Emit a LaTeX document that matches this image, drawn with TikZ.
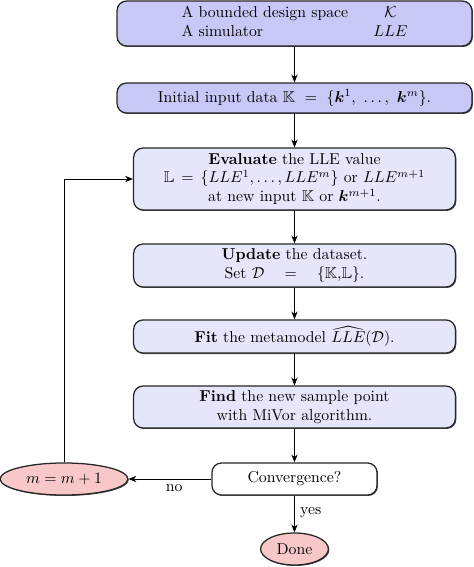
\documentclass[tikz,border=0pt]{standalone}
\usepackage{amssymb,bm}
\usetikzlibrary{shapes.geometric,shadows,arrows.meta}
\definecolor{topfill}{RGB}{200,200,246}
\definecolor{boxfill}{RGB}{230,230,250}
\definecolor{pinkfill}{RGB}{248,200,200}
\tikzset{
  base/.style={draw=black!85, line width=0.8pt, drop shadow={shadow xshift=0.6pt, shadow yshift=-0.6pt, fill=black!70, opacity=1}},
  topbox/.style={base, rounded corners=6pt, fill=topfill, minimum width=225pt, align=center, inner sep=2pt},
  stepbox/.style={base, rounded corners=6pt, fill=boxfill, minimum width=204pt, align=center, inner sep=2pt},
  decbox/.style={base, rounded corners=6pt, fill=white, minimum width=104.6pt, minimum height=20.3pt, align=center},
  term/.style={base, ellipse, fill=pinkfill, inner sep=0pt, minimum height=20.3pt},
  arr/.style={-{Stealth[length=5pt,width=4pt]}, line width=0.6pt}
}
\begin{document}
\begin{tikzpicture}[x=0.634pt, y=-0.634pt]
\useasboundingbox (0,0) rectangle (474,567);
\node[topbox, minimum height=28.5pt] (b1) at (294.5,23.5) {%
  \begin{tabular}{@{}l@{\hspace{16pt}}c@{}}
  A bounded design space & $\mathcal{K}$\\
  A simulator & $LLE$
  \end{tabular}};
\node[topbox, minimum height=19pt] (b2) at (294.5,98) {Initial input data $\mathbb{K}\ =\ \{\bm{k}^1,\ \ldots,\ \bm{k}^m\}$.};
\node[stepbox, minimum height=39.3pt] (b3) at (294.5,179) {\textbf{Evaluate} the LLE value\\
  $\mathbb{L}\,=\,\{LLE^1,\ldots,LLE^m\}$ or $LLE^{m+1}$\\
  at new input $\mathbb{K}$ or $\bm{k}^{m+1}$.};
\node[stepbox, minimum height=27.3pt] (b4) at (294.5,265.5) {\textbf{Update} the dataset.\\
  Set $\mathcal{D}\quad=\quad\{\mathbb{K}{,}\mathbb{L}\}$.};
\node[stepbox, minimum height=21pt] (b5) at (294.5,336.5) {\textbf{Fit} the metamodel $\widehat{LLE}(\mathcal{D})$.};
\node[stepbox, minimum height=26.6pt] (b6) at (294.5,407) {\textbf{Find} the new sample point\\
  with MiVor algorithm.};
\node[decbox] (conv) at (294.5,479) {Convergence?};
\node[term, minimum width=81pt] (inc) at (64,479) {$m=m+1$};
\node[term, minimum width=43pt] (done) at (294.5,549) {Done};
\draw[arr] (b1.south) -- (b2.north);
\draw[arr] (b2.south) -- (b3.north);
\draw[arr] (b3.south) -- (b4.north);
\draw[arr] (b4.south) -- (b5.north);
\draw[arr] (b5.south) -- (b6.north);
\draw[arr] (b6.south) -- (conv.north);
\draw[arr] (conv.west) -- node[below, pos=0.45] {no} (inc.east);
\draw[arr] (conv.south) -- node[right, pos=0.45] {yes} (done.north);
\draw[arr] (inc.north) |- (b3.west);
\end{tikzpicture}
\end{document}
